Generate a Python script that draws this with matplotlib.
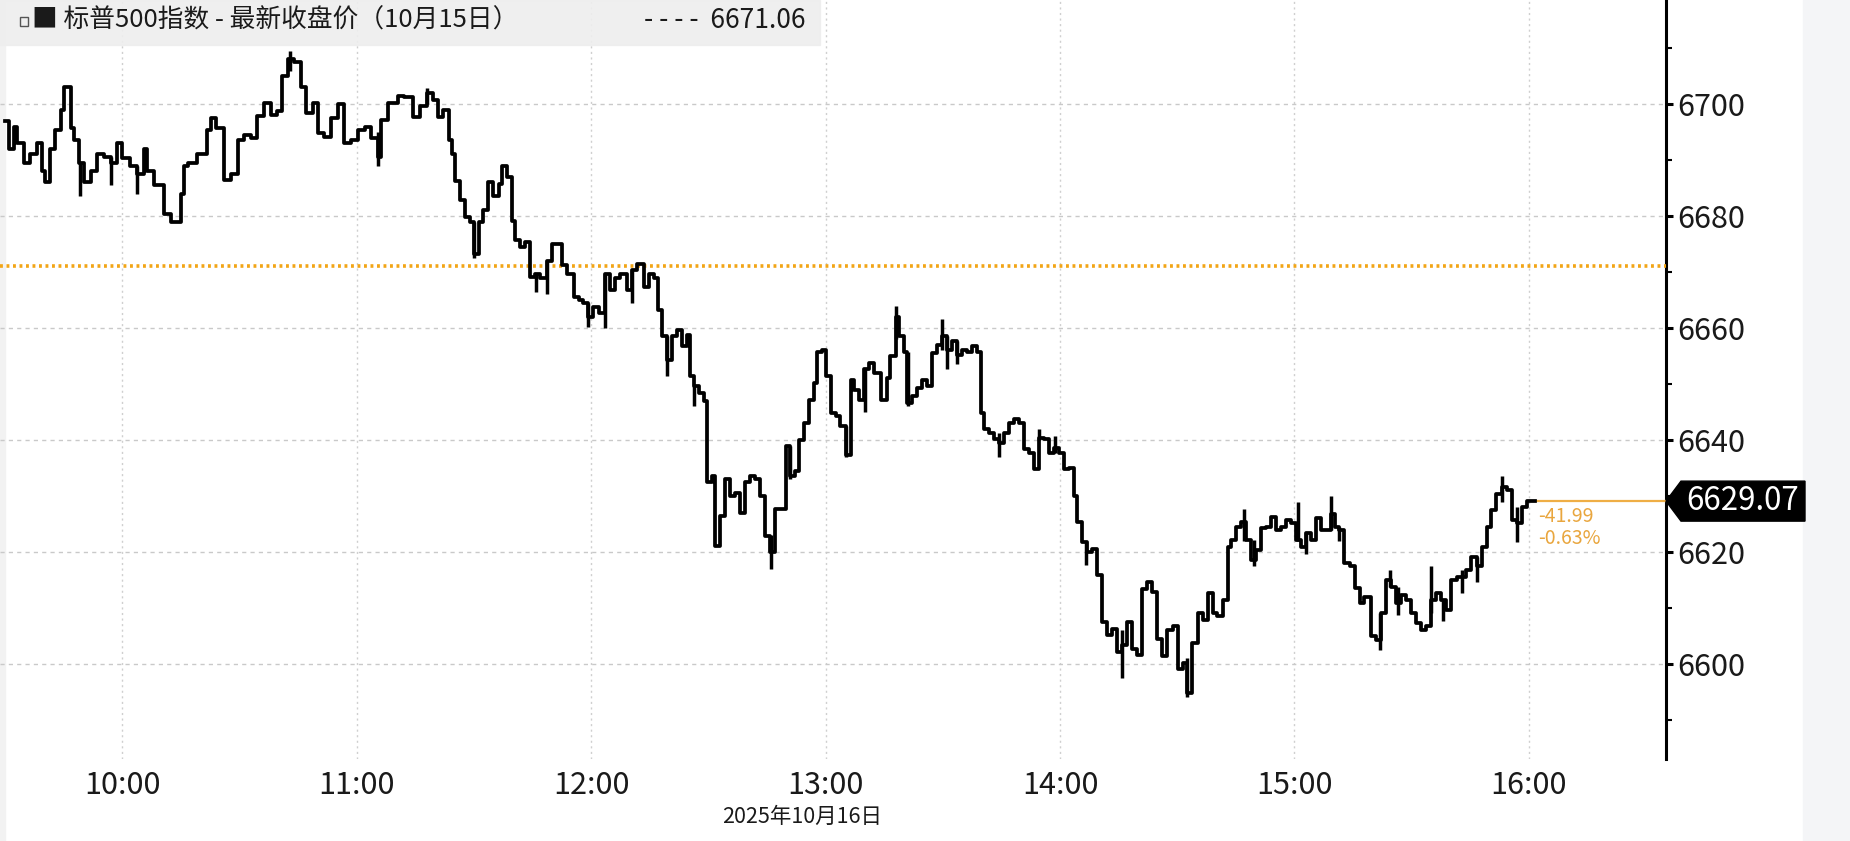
import matplotlib.pyplot as plt
from matplotlib.patches import Polygon, Rectangle

plt.rcParams['font.family'] = ['Noto Sans CJK SC', 'DejaVu Sans']

# 0.数据：距 9:30 开盘的分钟数 与 标普500 分钟收盘价
minutes = [0, 1, 2.2, 3, 4.8, 6.5, 8.2, 9.5, 10.3, 11.6, 12.9, 14.2, 15, 16.8, 17.6, 18.9,
           20.2, 21.9, 23.6, 25.3, 27, 28.7, 30, 32.1, 33.8, 35.6, 36.4, 38.1, 40.7, 42.4,
           45, 45.9, 46.7, 49.2, 51.8, 52.6, 53.9, 56, 57.8, 59.5, 61.2, 62.9, 64.6, 66.3,
           68, 69.7, 71, 72.3, 74, 75.7, 77, 78.7, 80, 81.7, 83.4, 85.1, 86.8, 88.5, 90.3,
           92, 93.7, 95.4, 96.2, 97.9, 100.5, 102, 104.5, 106.2, 108, 109.6, 110.9, 112.2,
           113.5, 114.3, 115.2, 116.5, 117.7, 119, 119.9, 121.2, 122.4, 123.7, 125, 126.3,
           127.1, 128.4, 129.7, 130.5, 131.8, 133.1, 134.4, 135.7, 136.9, 138.7, 139.9,
           141.2, 142.5, 143.8, 145.5, 146.8, 148, 149.3, 150.6, 151.9, 153.6, 154.9, 156.1,
           157.4, 159.1, 160.4, 161.7, 163.4, 164.7, 166, 167.2, 168.1, 169.4, 170.6, 171.9,
           173.2, 174.5, 175.3, 176.2, 177.5, 178.8, 179.6, 180.9, 181.7, 183, 184.3, 185.6,
           186.9, 188.1, 189.4, 190.7, 192, 193.3, 194.5, 195.8, 197.1, 199.8, 201, 202.3,
           203.2, 204.5, 205.7, 207, 207.9, 209.1, 210, 211.3, 212.6, 213.8, 215.1, 216.4,
           217.3, 218.5, 219.8, 221.1, 222.4, 224.1, 225.8, 226.6, 227.9, 228.8, 230, 230.9,
           232.2, 233.5, 234.7, 236, 237.3, 238.6, 239.9, 241.1, 242.4, 243.7, 245, 246.3,
           247.5, 248.8, 249.7, 250.5, 251.8, 253.1, 254.4, 255.6, 256.9, 258.2, 259.5,
           260.8, 262, 263.3, 264.6, 265.9, 267.2, 268.4, 269.7, 271, 272.3, 273.6, 274.4,
           275.7, 277, 278.3, 279.5, 280.8, 282.1, 283.4, 284.7, 285.9, 287.2, 288.5, 289.8,
           291.1, 292.3, 293.6, 294.9, 296.2, 297.5, 298.8, 300.1, 301.4, 302.6, 303.9,
           305.2, 306.5, 307.8, 309.1, 310.3, 311.6, 312.9, 313.8, 315, 316.3, 317.6, 318.9,
           320.2, 321.5, 322.7, 324, 325.3, 326.6, 327.9, 329.1, 330.4, 331.7, 333, 334.3,
           335.6, 336.8, 339.4, 340.3, 341.5, 342.8, 344.1, 345.4, 346.7, 347.9, 349.7,
           350.9, 352.2, 353.5, 354.8, 356.1, 357.4, 358.6, 359.9, 361.2, 362.5, 363.8, 365,
           366.3, 367.6, 368.9, 370.2, 371.5, 374, 375.3, 376.6, 377.9, 379.2, 380.4, 381.7,
           383, 384.3, 385.6, 386.9, 388.2, 389.4, 391.5]
closes = [6697, 6692, 6696, 6693, 6689.4, 6691, 6693, 6688, 6686, 6692, 6695.4, 6699, 6703,
          6695.7, 6693.6, 6689.4, 6686, 6688, 6691, 6690.6, 6689.5, 6693, 6690.3, 6689,
          6687.6, 6692, 6688, 6685.5, 6680.4, 6679, 6684, 6689, 6689.5, 6691, 6695.4, 6697.5,
          6695.7, 6686.4, 6687.6, 6693.6, 6694.5, 6694, 6697.8, 6700.2, 6698, 6698.7, 6705,
          6708, 6707.5, 6703, 6698.4, 6700.2, 6694.8, 6694.2, 6697.5, 6700, 6693, 6693.6,
          6695.4, 6696, 6694, 6690.6, 6697.2, 6700.2, 6701.4, 6701.3, 6697.7, 6699.6, 6702,
          6700.8, 6697.7, 6699, 6693.6, 6691, 6686.3, 6682.8, 6679.8, 6679, 6673.3, 6679,
          6681, 6686, 6683.5, 6685.7, 6689, 6687, 6679.2, 6675.7, 6674.5, 6675.4, 6669.2,
          6669.7, 6669, 6672, 6675, 6675, 6671.2, 6669.7, 6665.6, 6665, 6664.4, 6662, 6663.8,
          6662.6, 6669.7, 6666.8, 6669, 6669.7, 6666.8, 6670.3, 6671.5, 6667.4, 6669.7, 6669,
          6663.2, 6658.5, 6654.3, 6658.5, 6659.7, 6656.7, 6658.8, 6651.4, 6649.6, 6648.4,
          6647, 6632.4, 6633.6, 6621.1, 6626.5, 6633, 6630, 6630.6, 6627, 6632.4, 6633.6,
          6633, 6630, 6622.9, 6620, 6627.6, 6639, 6633.6, 6634.5, 6640, 6643, 6647.2, 6650.2,
          6655.8, 6656.1, 6651.4, 6644.9, 6644.3, 6642.5, 6637.4, 6650.8, 6649, 6647.2,
          6652.6, 6653.8, 6652, 6647.2, 6651.1, 6655, 6662, 6658.5, 6655.8, 6646.6, 6647.8,
          6649.3, 6650.8, 6649.6, 6655.5, 6657, 6658.5, 6656, 6657.6, 6655.2, 6656, 6655.8,
          6656.7, 6655.8, 6644.9, 6641.9, 6641.3, 6640.1, 6639.5, 6641.3, 6643.1, 6643.7,
          6643.1, 6638.3, 6637.7, 6634.8, 6640.4, 6640.1, 6637.7, 6638.6, 6637.7, 6634.8,
          6635, 6630, 6625.3, 6621.7, 6620, 6620.5, 6615.8, 6607.5, 6605.1, 6606.3, 6602.1,
          6603.3, 6607.5, 6602.7, 6601.5, 6613.4, 6614.6, 6612.8, 6604.5, 6601.4, 6606.1,
          6606.7, 6599, 6600.2, 6594.8, 6603.7, 6609, 6607.9, 6612.6, 6609, 6608.5, 6611.4,
          6620.9, 6622.1, 6624.5, 6625.4, 6622.1, 6618.5, 6620.3, 6624.2, 6624.5, 6626.2,
          6623.9, 6624.5, 6625.7, 6625.1, 6622.1, 6620.9, 6623.3, 6622.1, 6626, 6623.9,
          6626.8, 6624.5, 6623.9, 6618, 6617.4, 6613.5, 6610.8, 6612, 6604.9, 6604.3, 6609,
          6615, 6613.8, 6610.8, 6612.3, 6611.4, 6609, 6607.3, 6606.1, 6606.7, 6611.4, 6612.6,
          6611.4, 6609.6, 6615, 6615.6, 6616.8, 6619.1, 6617.4, 6620.9, 6624.5, 6627.4,
          6630.4, 6631.6, 6631, 6625.7, 6625.1, 6628, 6629.07, 6629.07]

# 分钟线的最高/最低（影线）
wick_min = [19.2, 27, 33.8, 73, 95.4, 108, 119.9, 136, 138.7, 149.3, 153.6, 160.4, 169.4,
            176.2, 196, 201, 215.1, 220, 227.9, 231, 239.9, 241.1, 243.7, 254.4, 264.6,
            268.8, 276.6, 285.9, 302.6, 317, 319.7, 330.9, 333, 339.4, 341.5, 352, 354.4,
            356.5, 365, 368, 373, 376.6, 383, 387]
wick_low = [6683.5, 6685.5, 6684, 6706, 6689, 6700, 6672.5, 6666.5, 6666, 6660.2, 6660,
            6664.4, 6651.4, 6646, 6617, 6633, 6637, 6645, 6658, 6646, 6656, 6652.6, 6653.5,
            6637, 6640, 6637.7, 6617.6, 6597.4, 6594, 6622, 6617.4, 6622, 6619.7, 6623.9,
            6622, 6602.5, 6613.8, 6608.8, 6609, 6607.6, 6612.6, 6614.7, 6629, 6621.8]
wick_high = [6689.4, 6690.6, 6689, 6709.5, 6695, 6702.8, 6679, 6669.7, 6672, 6664.4,
             6669.7, 6670.3, 6658.5, 6649.6, 6623, 6639, 6642.5, 6652.6, 6664, 6655.8,
             6661.6, 6658.5, 6657.6, 6641.3, 6641.9, 6640.7, 6621.7, 6606, 6601, 6627.7,
             6622.1, 6628.9, 6623.3, 6630, 6624.5, 6609, 6616.8, 6613.8, 6617.4, 6611.4,
             6616.8, 6619.1, 6633.6, 6628]

prev_close = 6671.06
last_close = 6629.07
change = -41.99
change_pct = -0.63

hour_ticks = [30, 90, 150, 210, 270, 330, 390]
hour_labels = ['10:00', '11:00', '12:00', '13:00', '14:00', '15:00', '16:00']
price_ticks = [6600, 6620, 6640, 6660, 6680, 6700]
price_minor = [6590, 6610, 6630, 6650, 6670, 6690, 6710]

#1.创建画布
W, H = 1850, 841
fig = plt.figure(figsize=(W / 100, H / 100), dpi=100)
fig.add_artist(Rectangle((1803 / W, 0), 47 / W, 1, transform=fig.transFigure,
                         color='#f4f5f7', zorder=0))
fig.add_artist(Rectangle((0, 0), 5 / W, 1, transform=fig.transFigure,
                         color='#f2f2f2', zorder=0))
ax = fig.add_axes([0, 82 / H, 1666 / W, 759 / H])
ax.patch.set_alpha(0)
ax.set_xlim(-1.3, 425.1)
ax.set_ylim(6583.0, 6718.6)

#2.图像绘制
ax.step(minutes, closes, where='post', color='black', lw=2.7, zorder=4)
ax.vlines(wick_min, wick_low, wick_high, color='black', lw=2.5, zorder=4)

ax.axhline(prev_close, color='#f2a516', lw=2.6, ls=(0, (0.8, 1.0)), zorder=3)
ax.hlines(last_close, minutes[-1], ax.get_xlim()[1], color='#efae45', lw=1.6, zorder=3)

ax.text(392.3, 6626.4, f'{change:.2f}', color='#e9a63e', fontsize=14, va='center', ha='left')
ax.text(392.3, 6622.4, f'{change_pct:.2f}%', color='#e9a63e', fontsize=14, va='center', ha='left')

#2.1坐标轴刻度
ax.yaxis.tick_right()
ax.set_yticks(price_ticks, [str(p) for p in price_ticks])
ax.set_yticks(price_minor, minor=True)
ax.tick_params(axis='y', which='major', direction='out', length=5, width=2.2,
               labelsize=22, pad=3, colors='black', labelcolor='#1a1a1a')
ax.tick_params(axis='y', which='minor', direction='out', length=4, width=1.5, colors='black')
ax.set_xticks(hour_ticks, hour_labels)
ax.tick_params(axis='x', length=0, pad=8, labelsize=22, labelcolor='#1a1a1a')

for s in ['left', 'top', 'bottom']:
    ax.spines[s].set_visible(False)
ax.spines['right'].set_linewidth(2.2)
ax.spines['right'].set_color('black')

#2.2添加网格
ax.grid(axis='y', which='major', color='#c9c9c9', lw=1, ls=(0, (3, 3)), zorder=1)
ax.grid(axis='x', color='#cfcfcf', lw=1, ls=(0, (1.5, 2.5)), zorder=1)
ax.set_axisbelow(True)

#2.3最新价标签
fig.canvas.draw()
y_pix = ax.transData.transform((0, last_close))[1]
pts = [(1666, y_pix), (1681, y_pix + 20), (1805, y_pix + 20),
       (1805, y_pix - 20), (1681, y_pix - 20)]
fig.add_artist(Polygon([(x / W, y / H) for x, y in pts], closed=True,
                       transform=fig.transFigure, color='black', zorder=5))
fig.text(1743 / W, y_pix / H, f'{last_close:.2f}', color='white', fontsize=22.5,
         ha='center', va='center', zorder=6)

#2.4图例
fig.add_artist(Rectangle((0, 1 - 45 / H), 820 / W, 45 / H, transform=fig.transFigure,
                         color='#eeeeee', alpha=0.9, zorder=5))
fig.add_artist(Rectangle((20 / W, 1 - 26 / H), 8 / W, 9 / H, transform=fig.transFigure,
                         fill=False, ec='#555555', lw=1, zorder=6))
fig.text(32 / W, 1 - 21 / H, '■ 标普500指数 - 最新收盘价（10月15日）', fontsize=18.5,
         ha='left', va='center', color='#1a1a1a', zorder=6)
fig.text(806 / W, 1 - 21 / H, '- - - -  ' + f'{prev_close:.2f}', fontsize=19,
         ha='right', va='center', color='#1a1a1a', zorder=6)

fig.text(802 / W, 1 - 817 / H, '2025年10月16日', fontsize=15.5, ha='center', va='center',
         color='#1a1a1a')

#3.保存
fig.savefig('out.png', dpi=100)
